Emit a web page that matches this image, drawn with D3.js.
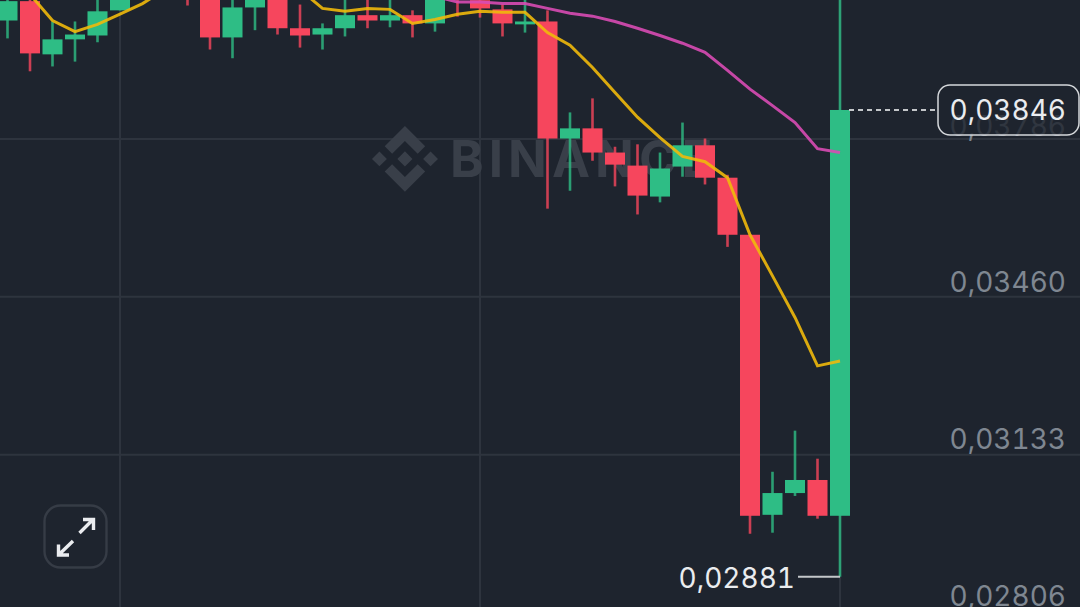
<!DOCTYPE html>
<html><head><meta charset="utf-8">
<script src="https://cdn.jsdelivr.net/npm/d3@7"></script>
<style>html,body{margin:0;padding:0;background:#1E242E;overflow:hidden}svg{display:block}text{font-family:Inter,"Noto Sans",sans-serif;font-variant-numeric:tabular-nums}</style>
</head><body><svg id="c" width="1080" height="607"></svg>
<script>
const opens  = [.04031,.04071,.03961,.03992,.04000,.04052,.04110,.04125,.04110,.04090,.03996,.04058,.04090,.04015,.04002,.04015,.04042,.04031,.04042,.04025,.04090,.04073,.04054,.04023,.04029,.03787,.03808,.03758,.03731,.03667,.03729,.03773,.03706,.03588,.03009,.03054,.03081,.03007];
const closes = [.04071,.03963,.03992,.04002,.04050,.04081,.04125,.04110,.04090,.03996,.04058,.04085,.04015,.04000,.04015,.04042,.04031,.04042,.04025,.04079,.04074,.04056,.04025,.04029,.03787,.03808,.03758,.03733,.03669,.03725,.03773,.03706,.03588,.03007,.03054,.03081,.03007,.03846];
const highs  = [.04095,.04085,.04029,.04029,.04081,.04090,.04135,.04135,.04130,.04110,.04085,.04090,.04110,.04064,.04025,.04085,.04080,.04080,.04052,.04090,.04100,.04090,.04064,.04090,.04052,.03841,.03870,.03770,.03775,.03758,.03820,.03787,.03712,.03588,.03098,.03183,.03125,.04090];
const lows   = [.03994,.03926,.03936,.03946,.03986,.04052,.04100,.04100,.04062,.03971,.03953,.04011,.04002,.03975,.03971,.03998,.04015,.04017,.03996,.04008,.04039,.04037,.03998,.04006,.03642,.03679,.03741,.03688,.03630,.03655,.03708,.03692,.03563,.02970,.02972,.03048,.03001,.02881];
const maFast = [null,.04085,.04031,.04008,.04023,.04044,.04066,.04095,.04110,.04115,.04115,.04110,.04105,.04095,.04056,.04050,.04056,.04054,.04025,.04033,.04044,.04050,.04048,.04048,.04006,.03980,.03934,.03882,.03831,.03789,.03750,.03739,.03706,.03588,.03503,.03417,.03317,.03327];
const maSlow = [null,null,null,null,null,null,null,null,null,null,null,null,null,null,null,null,null,null,.04095,.04081,.04069,.04069,.04066,.04066,.04056,.04046,.04040,.04029,.04015,.04000,.03984,.03965,.03928,.03889,.03855,.03820,.03766,.03758];
const gridPrices = [.03786,.03460,.03133,.02806];
const gridCandles = [5,21,37];
const lastPrice = .03846;
const lowPrice = .02881;
const watermark = "BINANCE";

const W = 1080, H = 607;
const BG = "#1E242E", RED = "#F6465D", GREEN = "#2EBD85";
const svg = d3.select("#c");
const x = d3.scaleLinear().domain([0,37]).range([7.5,840]);
const y = d3.scaleLinear().domain([.02806,.03786]).range([613,139]);
const labelY = d3.scaleLinear().domain([.02806,.03786]).range([605.5,135]);
const fmt = v => d3.format(".5f")(v).replace(".",",");

svg.append("g").selectAll("line").data(gridPrices).join("line")
  .attr("x1",0).attr("x2",W).attr("y1",d=>y(d)).attr("y2",d=>y(d))
  .attr("stroke","#2E343E").attr("stroke-width",2);
svg.append("g").selectAll("line").data(gridCandles).join("line")
  .attr("x1",d=>x(d)).attr("x2",d=>x(d)).attr("y1",0).attr("y2",H)
  .attr("stroke","#2E343E").attr("stroke-width",2);

const wm = svg.append("g");
wm.append("path").attr("transform","translate(372,126) scale(0.52)").attr("fill","#393F49")
  .attr("d","M38.73 53.2l24.59-24.58 24.6 24.6 14.3-14.31L63.32 0 24.43 38.9z M0 63.31l14.3-14.31 14.31 14.31-14.31 14.3z M38.73 73.41l24.59 24.59 24.6-24.6 14.31 14.29-.01.01-38.9 38.91-38.9-38.88-.02-.02z M98.28 63.31l14.3-14.3 14.31 14.3-14.31 14.3z M77.83 63.3L63.32 48.78 52.59 59.51l-1.24 1.23-2.54 2.54 14.51 14.5 14.51-14.47z");
wm.append("text").attr("x",450).attr("y",177).attr("font-size",51).attr("font-weight",700)
  .attr("letter-spacing",5).attr("fill","#393F49").text(watermark);

const candles = opens.map((o,i)=>({i,o,c:closes[i],h:highs[i],l:lows[i]}));
const col = d => d.c >= d.o ? GREEN : RED;
const g = svg.append("g");
g.selectAll("line").data(candles).join("line")
  .attr("x1",d=>x(d.i)).attr("x2",d=>x(d.i)).attr("y1",d=>y(d.h)).attr("y2",d=>y(d.l))
  .attr("stroke",col).attr("stroke-width",2.6).attr("stroke-opacity",.8);
g.selectAll("rect").data(candles).join("rect")
  .attr("x",d=>x(d.i)-10).attr("width",20)
  .attr("y",d=>y(Math.max(d.o,d.c))).attr("height",d=>Math.max(1,Math.abs(y(d.o)-y(d.c))))
  .attr("fill",col);

const line = d3.line().defined(d=>d!==null).x((d,i)=>x(i)).y(d=>y(d));
svg.append("path").attr("d",line(maFast)).attr("fill","none").attr("stroke","#F0B90B").attr("stroke-width",3).attr("stroke-opacity",.9);
svg.append("path").attr("d",line(maSlow)).attr("fill","none").attr("stroke","#D84BB4").attr("stroke-width",3).attr("stroke-opacity",.9);

const axis = d3.axisRight(labelY).tickValues(gridPrices).tickFormat(fmt).tickSize(0).tickPadding(0);
const ax = svg.append("g").attr("transform","translate(1066,0)").call(axis);
ax.select(".domain").remove();
ax.selectAll("text").attr("text-anchor","end").attr("dy",0).attr("x",0)
  .attr("font-size",28).attr("fill","#7F8791").style("font-family",'Inter,"Noto Sans",sans-serif');

svg.append("line").attr("x1",849).attr("x2",936).attr("y1",y(lastPrice)).attr("y2",y(lastPrice))
  .attr("stroke","#C4C7CA").attr("stroke-width",1.8).attr("stroke-dasharray","5 4");
svg.append("rect").attr("x",938).attr("y",85).attr("width",141).attr("height",50).attr("rx",12)
  .attr("fill",BG).attr("fill-opacity",.82).attr("stroke","#D5D8DB").attr("stroke-width",1.5);
svg.append("text").attr("x",1066).attr("y",y(lastPrice)+10.5).attr("text-anchor","end")
  .attr("font-size",28).attr("fill","#EAECEF").text(fmt(lastPrice));

svg.append("line").attr("x1",798).attr("x2",840).attr("y1",y(lowPrice)).attr("y2",y(lowPrice))
  .attr("stroke","#C4C7CA").attr("stroke-width",2);
svg.append("text").attr("x",795).attr("y",y(lowPrice)+11).attr("text-anchor","end")
  .attr("font-size",28).attr("fill","#EAECEF").text(fmt(lowPrice));

const ic = svg.append("g");
ic.append("rect").attr("x",44.5).attr("y",505.5).attr("width",62).attr("height",62).attr("rx",16)
  .attr("fill","none").attr("stroke","#363C46").attr("stroke-width",2.4);
ic.append("path").attr("fill","none").attr("stroke","#EAECEF").attr("stroke-width",3.4)
  .attr("d","M79.5 533L93 519.5M83 519.5H93.5V530M73 541L59 554.5M58.5 544.5V555H69");
</script></body></html>
